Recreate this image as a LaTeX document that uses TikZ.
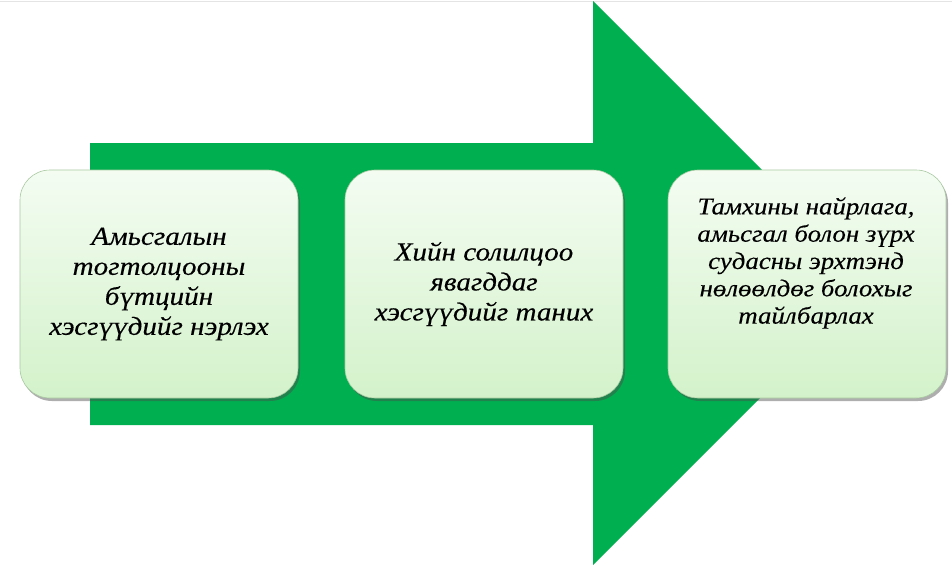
\documentclass[tikz,border=0pt]{standalone}
\usepackage{fontspec}
\setmainfont{Liberation Serif}
\newfontfamily\stepfont[FakeStretch=1.12, FakeBold=0.3]{Liberation Serif}
\usetikzlibrary{shadows}
\definecolor{arrowgreen}{HTML}{00B050}
\definecolor{boxtop}{HTML}{F4FCF2}
\definecolor{boxbottom}{HTML}{D3F2CA}
\definecolor{boxborder}{HTML}{A9C9A2}
\definecolor{topline}{HTML}{E4E4E4}
\tikzset{
  stepbox/.style={draw=boxborder, line width=0.6pt, top color=boxtop, bottom color=boxbottom,
    rounded corners=30pt, minimum width=278pt, minimum height=228pt, inner sep=0pt,
    align=center, text=black,
    drop shadow={shadow xshift=2pt, shadow yshift=-3pt, opacity=0.45, fill=black!70}},
  bigtext/.style={font=\stepfont\fontsize{26}{30}\selectfont\itshape},
  smalltext/.style={font=\stepfont\fontsize{24}{27.3}\selectfont\itshape}
}
\begin{document}
\begin{tikzpicture}[x=1pt,y=-1pt]
\useasboundingbox (0,0) rectangle (952,565);
\fill[white] (0,0) rectangle (952,565);
\draw[topline, line width=1pt] (0,1) -- (952,1);
\fill[arrowgreen] (90,143) -- (593,143) -- (593,1) -- (875,283) -- (593,565) -- (593,425) -- (90,425) -- cycle;
\node[stepbox, bigtext] (b1) at (159,284) {Амьсгалын\\тогтолцооны\\бүтцийн\\хэсгүүдийг нэрлэх};
\node[stepbox, bigtext] (b2) at (484,284) {Хийн солилцоо\\явагддаг\\хэсгүүдийг таних};
\node[stepbox] (b3) at (807,284) {};
\node[smalltext, align=center] (t3) at (806,263) {Тамхины найрлага,\\амьсгал болон зүрх\\судасны эрхтэнд\\нөлөөлдөг болохыг\\тайлбарлах};
\end{tikzpicture}
\end{document}
